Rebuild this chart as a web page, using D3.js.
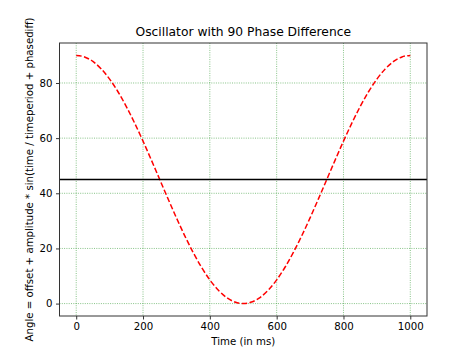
<!DOCTYPE html>
<html><head><meta charset="utf-8">
<script src="https://cdn.jsdelivr.net/npm/d3@7"></script>
<style>body{margin:0;background:#fff}svg{display:block}text{font-family:"DejaVu Sans",sans-serif;fill:#000}</style>
</head><body>
<script>
const timeMs = [0,25,50,75,100,125,150,175,200,225,250,275,300,325,350,375,400,425,450,475,500,
  525,550,575,600,625,650,675,700,725,750,775,800,825,850,875,900,925,950,975,1000];
const angle = [90,89.45,87.80,85.10,81.41,76.82,71.45,65.43,58.91,52.04,45,37.96,31.09,24.57,18.55,13.18,8.59,4.90,2.20,0.55,0,
  0.55,2.20,4.90,8.59,13.18,18.55,24.57,31.09,37.96,45,52.04,58.91,65.43,71.45,76.82,81.41,85.10,87.80,89.45,90];
const offsetLine = [45];
const xTicks = [0,200,400,600,800,1000];
const yTicks = [0,20,40,60,80];

const W=474,H=355, L=59.5, R=427, T=43, B=316;
const svg=d3.select("body").append("svg").attr("width",W).attr("height",H);
const x=d3.scaleLinear().domain([-50,1050]).range([L,R]);
const y=d3.scaleLinear().domain([-4.5,94.5]).range([B,T]);

const g=svg.append("g");
// grid
g.selectAll(".gx").data(xTicks).join("line").attr("x1",d=>x(d)).attr("x2",d=>x(d)).attr("y1",T).attr("y2",B)
 .attr("stroke","#008000").attr("stroke-opacity",0.6).attr("stroke-width",0.8).attr("stroke-dasharray","1,1.3");
g.selectAll(".gy").data(yTicks).join("line").attr("y1",d=>y(d)).attr("y2",d=>y(d)).attr("x1",L).attr("x2",R)
 .attr("stroke","#008000").attr("stroke-opacity",0.6).attr("stroke-width",0.8).attr("stroke-dasharray","1,1.3");

// curve
const line=d3.line().x((d,i)=>x(timeMs[i])).y(d=>y(d)).curve(d3.curveMonotoneX);
svg.append("path").attr("d",line(angle)).attr("fill","none").attr("stroke","#ff0000").attr("stroke-width",1.5).attr("stroke-dasharray","5.5,2.4");
// horizontal line
svg.selectAll(".hl").data(offsetLine).join("line").attr("x1",L).attr("x2",R).attr("y1",d=>y(d)).attr("y2",d=>y(d))
 .attr("stroke","#000").attr("stroke-width",1.5);

// axes
const xa=svg.append("g").attr("transform",`translate(0,${B})`).call(d3.axisBottom(x).tickValues(xTicks).tickSize(3.5).tickPadding(3.5).tickFormat(d3.format("d")));
const ya=svg.append("g").attr("transform",`translate(${L},0)`).call(d3.axisLeft(y).tickValues(yTicks).tickSize(3.5).tickPadding(3.5).tickFormat(d3.format("d")));
[xa,ya].forEach(a=>{a.select(".domain").remove();a.selectAll("text").style("font-size","10.2px").style("font-family","DejaVu Sans").attr("fill","#000");a.selectAll("line").attr("stroke","#000").attr("stroke-width",0.8);});
svg.append("rect").attr("x",L).attr("y",T).attr("width",R-L).attr("height",B-T).attr("fill","none").attr("stroke","#333").attr("stroke-width",1);

svg.append("text").attr("x",(L+R)/2).attr("y",36).attr("text-anchor","middle").style("font-size","12.3px").text("Oscillator with 90 Phase Difference");
svg.append("text").attr("x",(L+R)/2).attr("y",345).attr("text-anchor","middle").style("font-size","10.2px").text("Time (in ms)");
svg.append("text").attr("transform",`translate(32.5,${(T+B)/2}) rotate(-90)`).attr("text-anchor","middle").style("font-size","10.2px").text("Angle = offset + amplitude * sin(time / timeperiod + phasediff)");
</script>
</body></html>
